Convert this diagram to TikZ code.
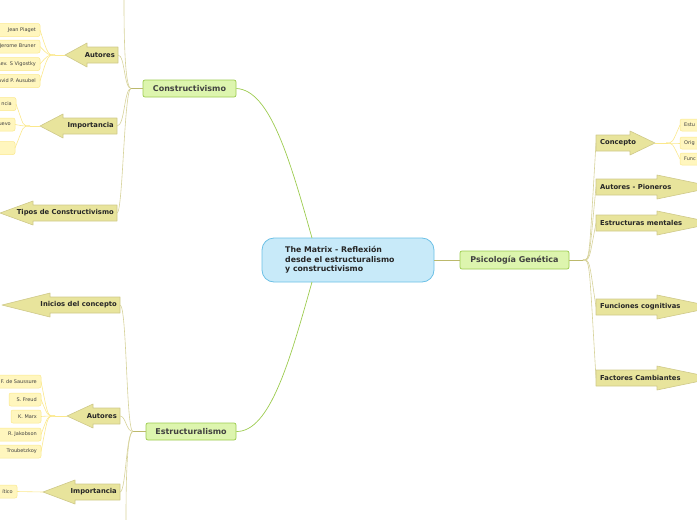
\documentclass[tikz,border=0pt]{standalone}
\usepackage{fontspec}
\setmainfont{DejaVu Sans}
\begin{document}
\begin{tikzpicture}[x=1pt,y=-1pt,
 arrowshape/.style={fill=arrfill,draw=arrline,line width=0.6pt,line join=round},
 arrtext/.style={font=\bfseries\fontsize{6.8}{7}\selectfont,text=black!85,inner sep=0pt},
 mainbox/.style={fill=mainfill,draw=mainline,rounded corners=2pt,line width=0.7pt,font=\bfseries\fontsize{8}{9}\selectfont,text=black!75,inner sep=0pt},
 leaf/.style={fill=leaffill,draw=leafline,rounded corners=2pt,line width=0.5pt},
 leaftext/.style={font=\fontsize{5}{5}\selectfont,text=black!75,inner sep=0pt},
 br/.style={draw=brline,line width=0.6pt},
 lf/.style={draw=leafline,line width=0.6pt}]
\definecolor{arrfill}{HTML}{E8E49C}
\definecolor{arrline}{HTML}{CFC98A}
\definecolor{mainfill}{HTML}{DDF5AE}
\definecolor{mainline}{HTML}{9CCB4E}
\definecolor{leaffill}{HTML}{FFF6BE}
\definecolor{leafline}{HTML}{FBE88C}
\definecolor{brline}{HTML}{D6D29A}
\definecolor{cenfill}{HTML}{C8EAF9}
\definecolor{cenline}{HTML}{6CC0E6}
\useasboundingbox (0,0) rectangle (697,520);
\clip (0,0) rectangle (697,520);
\newcommand\larr[6]{%
 \fill[arrowshape] (#1,#5) -- (#2,#5-12) -- (#2,#5-8) -- (#3,#5-8) -- (#3,#5+8) -- (#2,#5+8) -- (#2,#5+12) -- cycle;
 \node[arrtext,anchor=east] (#4) at (#3-3,#5) {#6};
 \coordinate (#4e) at (#3,#5);}
\newcommand\rarr[6]{%
 \fill[arrowshape] (#3,#5) -- (#2,#5-12) -- (#2,#5-8) -- (#1,#5-8) -- (#1,#5+8) -- (#2,#5+8) -- (#2,#5+12) -- cycle;
 \node[arrtext,anchor=west] (#4) at (#1+4,#5) {#6};
 \coordinate (#4w) at (#1,#5);}
\newcommand\lleaf[5]{%
 \fill[leaf] (#1,#3-6.5) rectangle (#2,#3+6.5);
 \node[leaftext,anchor=east] (#4) at (#2-4,#3) {#5};
 \coordinate (#4e) at (#2,#3);}
% central
\node[fill=cenfill,draw=cenline,line width=0.8pt,rounded corners=12pt,minimum width=172pt,minimum height=44pt] (cen) at (348,260) {};
\node[font=\bfseries\fontsize{7.8}{9.5}\selectfont,text=black!85,align=left,inner sep=0pt,anchor=west] at (285,260) {The Matrix - Reflexión\\desde el estructuralismo\\y constructivismo};
% main nodes
\node[mainbox,minimum width=93pt,minimum height=17pt] (con) at (189.5,88.5) {Constructivismo};
\node[mainbox,minimum width=90pt,minimum height=17pt] (est) at (191,431.5) {Estructuralismo};
\node[mainbox,minimum width=109pt,minimum height=18pt] (psi) at (514.5,260) {Psicología Genética};
\draw[draw=mainline,line width=0.7pt] (312,238) .. controls (290,160) and (270,90) .. (con.east);
\draw[draw=mainline,line width=0.7pt] (312,282) .. controls (290,360) and (270,432) .. (est.east);
\draw[draw=brline!70!olive,line width=0.8pt] (cen.east) -- (psi.west);
% Constructivismo children
\larr{65}{87}{118}{ca}{55}{Autores}
\larr{40}{63}{117}{ci}{126}{Importancia}
\larr{0}{33}{117}{ct}{213}{Tipos de Constructivismo}
\coordinate (cj) at (131,88.5);
\draw[draw=brline!70!olive,line width=0.8pt] (con.west) -- (cj);
\draw[br] (cj) .. controls (124,88.5) and (125,55) .. (cae);
\draw[br] (cj) .. controls (124,88.5) and (125,126) .. (cie);
\draw[br] (cj) .. controls (124,88.5) and (123,213) .. (cte);
\draw[br] (cj) .. controls (124,88.5) and (124,20) .. (124,0);
% leaves Autores
\lleaf{-20}{40}{30}{l1}{Jean Piaget}
\lleaf{-20}{40}{46.5}{l2}{Jerome Bruner}
\lleaf{-20}{40}{64}{l3}{Lev. S Vigostky}
\lleaf{-20}{40}{81}{l4}{David P. Ausubel}
\coordinate (caj) at (55,55);
\draw[lf] (caj) -- (65,55);
\foreach \t in {l1e,l2e,l3e,l4e} \draw[lf] (caj) .. controls (48,55) and (48,55) .. (\t);
% leaves Importancia
\lleaf{-20}{16}{104}{i1}{ncia}
\lleaf{-20}{15}{124.5}{i2}{uevo}
\lleaf{-20}{15}{148}{i3}{}
\coordinate (cij) at (30,126);
\draw[lf] (cij) -- (40,126);
\foreach \t in {i1e,i2e,i3e} \draw[lf] (cij) .. controls (22,126) and (24,126) .. (\t);
% Estructuralismo children
\larr{2}{50}{120}{ei}{305}{Inicios del concepto}
\larr{67}{93}{120}{ea}{416}{Autores}
\larr{43}{75}{120}{em}{492}{Importancia}
\coordinate (ej) at (133,431.5);
\draw[draw=brline!70!olive,line width=0.8pt] (est.west) -- (ej);
\draw[br] (ej) .. controls (126,431.5) and (127,305) .. (eie);
\draw[br] (ej) .. controls (126,431.5) and (126,416) .. (eae);
\draw[br] (ej) .. controls (126,431.5) and (126,492) .. (eme);
\draw[br] (ej) .. controls (126,431.5) and (126,500) .. (126,520);
\lleaf{-20}{41}{381.5}{s1}{F. de Saussure}
\lleaf{9}{41}{399.5}{s2}{S. Freud}
\lleaf{11}{41}{416.5}{s3}{K. Marx}
\lleaf{-20}{41}{434.5}{s4}{R. Jakobson}
\lleaf{-20}{41}{451.5}{s5}{Troubetzkoy}
\coordinate (eaj) at (55,416);
\draw[lf] (eaj) -- (67,416);
\foreach \t in {s1e,s2e,s3e,s4e,s5e} \draw[lf] (eaj) .. controls (47,416) and (48,416) .. (\t);
\lleaf{-20}{17}{491.5}{m1}{ítico}
\draw[lf] (m1e) -- (43,492);
% Psicologia children
\rarr{596}{630}{655}{pc}{143}{Concepto}
\rarr{596}{657}{715}{pa}{187}{Autores - Pioneros}
\rarr{596}{657}{715}{pe}{223}{Estructuras mentales}
\rarr{596}{657}{715}{pf}{307}{Funciones cognitivas}
\rarr{596}{657}{715}{pk}{378}{Factores Cambiantes}
\coordinate (pj) at (583,260);
\draw[draw=brline!70!olive,line width=0.8pt] (psi.east) -- (pj);
\foreach \t in {pcw,paw,pew,pfw,pkw} \draw[br] (pj) .. controls (590,260) and (589,260) .. (\t);
\newcommand\rleaf[4]{%
 \fill[leaf] (#1,#2-6) rectangle (720,#2+6);
 \node[leaftext,anchor=west] at (#1+4,#2) {#4};
 \coordinate (#3) at (#1,#2);}
\rleaf{680}{125}{r1}{Estu}
\rleaf{680}{143}{r2}{Orig}
\rleaf{680}{159}{r3}{Func}
\coordinate (pcj) at (666,143);
\draw[lf] (655,143) -- (pcj);
\foreach \t in {r1,r2,r3} \draw[lf] (pcj) .. controls (673,143) and (672,143) .. (\t);
\end{tikzpicture}
\end{document}
